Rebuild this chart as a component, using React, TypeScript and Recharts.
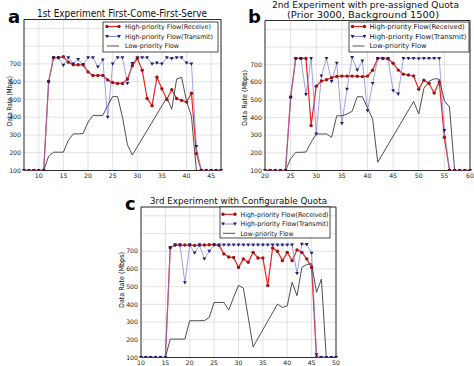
import type { FC } from "react";
import {
	LineChart,
	Line,
	XAxis,
	YAxis,
	CartesianGrid,
	ReferenceArea,
} from "recharts";

// ---- panel a : 1st experiment ----
const xA = [7, 8, 9, 10, 11, 12, 13, 14, 15, 16, 17, 18, 19, 20, 21, 22, 23, 24, 25, 26, 27, 28, 29, 30, 31, 32, 33, 34, 35, 36, 37, 38, 39, 40, 41, 42, 43, 44, 45, 46, 47];
const recvA = [100, 100, 100, 100, 100, 600, 735, 735, 740, 710, 695, 695, 695, 655, 635, 635, 635, 610, 595, 590, 590, 615, 690, 730, 665, 505, 465, 625, 560, 500, 555, 505, 495, 485, 535, 195, 100, 100, 100, 100, 100];
const sendA = [100, 100, 100, 100, 100, 600, 735, 735, 692, 735, 700, 725, 695, 735, 735, 683, 722, 400, 700, 735, 735, 590, 703, 735, 735, 735, 700, 705, 700, 735, 730, 735, 735, 705, 700, 235, 100, 100, 100, 100, 100];
const lowA = [100, 100, 100, 100, 100, 180, 203, 203, 203, 270, 306, 306, 308, 372, 410, 410, 410, 466, 516, 516, 400, 245, 187, null, null, null, null, null, null, 510, 445, 615, 625, 490, 405, 100, 100, 100, 100, 100, 100];
const xTicksA = [10, 15, 20, 25, 30, 35, 40, 45];

// ---- panel b : 2nd experiment ----
const xB = [20, 21, 22, 23, 24, 25, 26, 27, 28, 29, 30, 31, 32, 33, 34, 35, 36, 37, 38, 39, 40, 41, 42, 43, 44, 45, 46, 47, 48, 49, 50, 51, 52, 53, 54, 55, 56, 57, 58, 59, 60];
const recvB = [100, 100, 100, 100, 100, 515, 735, 735, 735, 355, 578, 607, 614, 626, 633, 635, 635, 635, 634, 632, 635, 668, 735, 735, 733, 708, 669, 646, 641, 636, 561, 612, 594, 539, 602, 288, 100, 100, 100, 100, 100];
const sendB = [100, 100, 100, 100, 100, 515, 735, 735, 530, 735, 307, 636, 735, 605, 708, 367, 561, 740, 669, 721, 439, 593, 735, 735, 735, 552, 533, 735, 735, 735, 733, 735, 735, 735, 735, 326, 100, 100, 100, 100, 100];
const lowB = [100, 100, 100, 100, 100, 166, 203, 203, 205, 260, 307, 307, 307, 288, 410, 410, 420, 435, 518, 518, 455, 392, 147, null, null, null, null, null, null, 491, 420, 565, 605, 620, 618, 495, 460, 100, 100, 100, 100];
const xTicksB = [20, 25, 30, 35, 40, 45, 50, 55, 60];

// ---- panel c : 3rd experiment ----
const xC = [10, 11, 12, 13, 14, 15, 16, 17, 18, 19, 20, 21, 22, 23, 24, 25, 26, 27, 28, 29, 30, 31, 32, 33, 34, 35, 36, 37, 38, 39, 40, 41, 42, 43, 44, 45, 46, 47, 48, 49, 50];
const recvC = [100, 100, 100, 100, 100, 100, 720, 735, 735, 735, 735, 733, 735, 735, 737, 737, 733, 685, 668, 665, 609, 657, 638, 694, 662, 662, 506, 719, 700, 647, 694, 647, 708, 694, 657, 609, 100, 100, 100, 100, 100];
const sendC = [100, 100, 100, 100, 100, 100, 720, 735, 735, 522, 735, 690, 735, 657, 700, 735, 735, 735, 735, 735, 735, 735, 735, 735, 735, 735, 735, 735, 735, 735, 735, 735, 575, 740, 738, 689, 115, 100, 100, 100, 100];
const lowC = [100, 100, 100, 100, 100, 100, 204, 204, 204, 204, 308, 308, 308, 308, 326, 411, 411, 411, 368, 440, 507, 492, 326, 160, null, null, null, null, 402, 383, 392, 525, 449, 609, 625, 630, 468, 543, 100, 100, 100];
const xTicksC = [10, 15, 20, 25, 30, 35, 40, 45, 50];

const yTicks = [100, 200, 300, 400, 500, 600, 700, 800, 900];

const FONT = "'DejaVu Sans', sans-serif";
const RED = "#e8231f";
const RED_DOT = "#9e1216";
const BLUE = "#7c7cd8";
const BLUE_DOT = "#1f1f6b";
const GRAY = "#3c3c3c";

const RedDot = (p: any) => {
	if (p.cx == null || p.cy == null) return <g key={`r-${p.index}`} />;
	return <circle key={`r-${p.index}`} cx={p.cx} cy={p.cy} r={1.7} fill={RED_DOT} />;
};

const BlueDot = (p: any) => {
	const { cx, cy } = p;
	if (cx == null || cy == null) return <g key={`b-${p.index}`} />;
	return (
		<path
			key={`b-${p.index}`}
			d={`M${cx - 1.9},${cy - 1.5}L${cx + 1.9},${cy - 1.5}L${cx},${cy + 1.8}Z`}
			fill={BLUE_DOT}
		/>
	);
};

interface PanelProps {
	left: number;
	top: number;
	width: number;
	height: number;
	mTop: number;
	mRight: number;
	yWidth: number;
	xHeight: number;
	xs: number[];
	recv: number[];
	send: number[];
	low: (number | null)[];
	xTicks: number[];
}

const Panel: FC<PanelProps> = (p) => {
	const data = p.xs.map((x, i) => ({
		x,
		recv: p.recv[i],
		send: p.send[i],
		low: p.low[i],
	}));
	const x0 = p.xs[0];
	const x1 = p.xs[p.xs.length - 1];
	const tick = { fontSize: 6.2, fill: "#222", fontFamily: FONT };
	return (
		<div style={{ position: "absolute", left: p.left, top: p.top }}>
			<LineChart
				width={p.width}
				height={p.height}
				data={data}
				margin={{ top: p.mTop, right: p.mRight, left: 0, bottom: 0.5 }}
			>
				<CartesianGrid stroke="#d6d6d6" strokeWidth={0.7} />
				<XAxis
					dataKey="x"
					type="number"
					domain={[x0, x1]}
					ticks={p.xTicks}
					height={p.xHeight}
					tick={tick}
					tickLine={false}
					axisLine={false}
					tickSize={3}
					tickMargin={0}
					interval={0}
				/>
				<YAxis
					type="number"
					domain={[100, 950]}
					ticks={yTicks}
					width={p.yWidth}
					tick={tick}
					tickLine={false}
					axisLine={false}
					tickSize={3}
					tickMargin={0}
					interval={0}
					allowDataOverflow
					tickFormatter={(v: number) => (v <= 700 ? String(v) : "")}
				/>
				<ReferenceArea
					x1={x0}
					x2={x1}
					y1={100}
					y2={950}
					fill="none"
					stroke="#000"
					strokeWidth={0.8}
					ifOverflow="visible"
				/>
				<Line
					type="linear"
					dataKey="recv"
					stroke={RED}
					strokeWidth={1.2}
					dot={RedDot}
					isAnimationActive={false}
				/>
				<Line
					type="linear"
					dataKey="send"
					stroke={BLUE}
					strokeOpacity={0.8}
					strokeWidth={0.9}
					dot={BlueDot}
					isAnimationActive={false}
				/>
				<Line
					type="linear"
					dataKey="low"
					stroke={GRAY}
					strokeWidth={0.9}
					dot={false}
					connectNulls
					isAnimationActive={false}
				/>
			</LineChart>
		</div>
	);
};

interface LegendProps {
	x: number;
	y: number;
	w: number;
	h: number;
	handleX: number;
	textX: number;
	rows: number[];
	labels: string[];
	lengths: number[];
	fontSize: number;
}

// matplotlib-style legend box, two markers per handle
const LegendBox: FC<LegendProps> = (l) => {
	const hx2 = l.handleX + 12;
	return (
		<g>
			<rect x={l.x} y={l.y} width={l.w} height={l.h} fill="#fff" stroke="#000" strokeWidth={0.7} />
			<line x1={l.handleX} x2={hx2} y1={l.rows[0]} y2={l.rows[0]} stroke={RED} strokeWidth={1.2} />
			<RedDot cx={l.handleX} cy={l.rows[0]} index="l1" />
			<RedDot cx={hx2} cy={l.rows[0]} index="l2" />
			<line x1={l.handleX} x2={hx2} y1={l.rows[1]} y2={l.rows[1]} stroke={BLUE} strokeWidth={0.9} />
			<BlueDot cx={l.handleX} cy={l.rows[1]} index="l3" />
			<BlueDot cx={hx2} cy={l.rows[1]} index="l4" />
			<line x1={l.handleX} x2={hx2} y1={l.rows[2]} y2={l.rows[2]} stroke={GRAY} strokeWidth={0.9} />
			{l.labels.map((t, i) => (
				<text
					key={t}
					x={l.textX}
					y={l.rows[i] + l.fontSize * 0.36}
					fontSize={l.fontSize}
					fontFamily={FONT}
					fill="#111"
					textLength={l.lengths[i]}
					lengthAdjust="spacingAndGlyphs"
				>
					{t}
				</text>
			))}
		</g>
	);
};

const YLabel: FC<{ x: number; y: number; len: number }> = ({ x, y, len }) => (
	<text
		x={x}
		y={y}
		transform={`rotate(-90 ${x} ${y})`}
		textAnchor="middle"
		fontSize={7}
		fontFamily={FONT}
		fill="#111"
		textLength={len}
		lengthAdjust="spacingAndGlyphs"
	>
		Data Rate (Mbps)
	</text>
);

const Title: FC<{ x: number; y: number; len: number; size: number; text: string }> = ({ x, y, len, size, text }) => (
	<text
		x={x}
		y={y}
		textAnchor="middle"
		fontSize={size}
		fontFamily={FONT}
		fill="#111"
		textLength={len}
		lengthAdjust="spacingAndGlyphs"
	>
		{text}
	</text>
);

const Letter: FC<{ x: number; y: number; t: string }> = ({ x, y, t }) => (
	<text x={x} y={y} fontSize={18} fontWeight="bold" fontFamily={FONT} fill="#000">
		{t}
	</text>
);

export default function App() {
	return (
		<div
			style={{
				position: "absolute",
				left: 0,
				top: 0,
				width: 474,
				height: 366,
				background: "#fff",
				overflow: "hidden",
			}}
		>
			<Panel
				left={0}
				top={0}
				width={230}
				height={185}
				mTop={19.5}
				mRight={9}
				yWidth={24}
				xHeight={14}
				xs={xA}
				recv={recvA}
				send={sendA}
				low={lowA}
				xTicks={xTicksA}
			/>
			<Panel
				left={240}
				top={0}
				width={234}
				height={185}
				mTop={20.5}
				mRight={4}
				yWidth={25}
				xHeight={14}
				xs={xB}
				recv={recvB}
				send={sendB}
				low={lowB}
				xTicks={xTicksB}
			/>
			<Panel
				left={115}
				top={190}
				width={230}
				height={176}
				mTop={17}
				mRight={9}
				yWidth={26}
				xHeight={8}
				xs={xC}
				recv={recvC}
				send={sendC}
				low={lowC}
				xTicks={xTicksC}
			/>
			<svg
				width={474}
				height={366}
				style={{ position: "absolute", left: 0, top: 0, pointerEvents: "none" }}
			>
				<Letter x={8} y={23} t="a" />
				<Letter x={248} y={23} t="b" />
				<Letter x={125} y={210} t="c" />
				<Title x={122} y={16.5} len={170} size={10} text="1st Experiment First-Come-First-Serve" />
				<Title x={365.5} y={8} len={187} size={9.5} text="2nd Experiment with pre-assigned Quota" />
				<Title x={363} y={18} len={152} size={9.5} text="(Prior 3000, Background 1500)" />
				<Title x={238.5} y={203.5} len={177} size={9.5} text="3rd Experiment with Configurable Quota" />
				<YLabel x={12} y={101} len={50} />
				<YLabel x={247} y={98} len={56} />
				<YLabel x={124} y={280} len={56} />
				<LegendBox
					x={103}
					y={22}
					w={115}
					h={30}
					handleX={107}
					textX={125}
					rows={[26.5, 36.5, 46]}
					labels={["High-priority Flow(Receive)", "High-priority Flow(Transmit)", "Low-priority Flow"]}
					lengths={[86, 88, 54]}
					fontSize={6.5}
				/>
				<LegendBox
					x={349}
					y={22}
					w={120}
					h={30}
					handleX={352.5}
					textX={369.5}
					rows={[26.5, 36.5, 46]}
					labels={["High-priority Flow(Received)", "High-priority Flow(Transmit)", "Low-priority Flow"]}
					lengths={[95, 97, 57]}
					fontSize={6.8}
				/>
				<LegendBox
					x={220}
					y={207}
					w={110}
					h={31}
					handleX={223}
					textX={240.5}
					rows={[214.3, 224, 233.3]}
					labels={["High-priority Flow(Received)", "High-priority Flow(Transmit)", "Low-priority Flow"]}
					lengths={[88, 88, 53]}
					fontSize={6.5}
				/>
			</svg>
		</div>
	);
}
